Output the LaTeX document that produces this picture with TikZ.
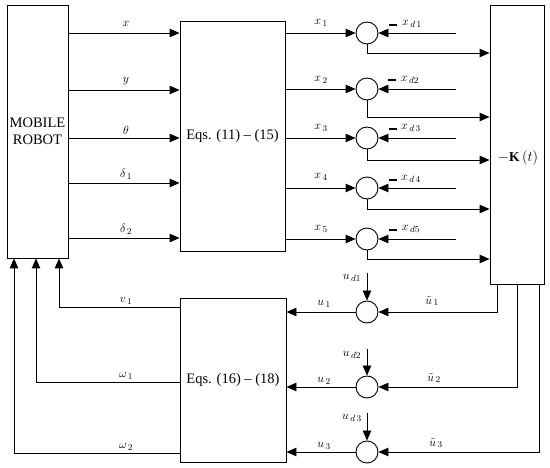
\documentclass[tikz,border=0pt]{standalone}
\usepackage{fontspec}
\setmainfont{Liberation Serif}
\usetikzlibrary{arrows.meta}
\begin{document}
\begin{tikzpicture}[x=1pt,y=-1pt,
  blk/.style={draw, line width=0.9pt, inner sep=0pt, align=center, font=\fontsize{14.5}{17}\selectfont},
  sumj/.style={draw, circle, line width=0.9pt, minimum size=22pt, inner sep=0pt},
  arr/.style={line width=0.9pt, -{Triangle[length=10pt,width=8.5pt]}},
  lbl/.style={font=\fontsize{13}{15}\selectfont, inner sep=0pt},
  minusbar/.style={inner sep=0pt}
]
\useasboundingbox (0,0) rectangle (550,468);
% blocks
\node[blk, minimum width=61pt, minimum height=253pt] (robot) at (37.5,131.5) {MOBILE\\ROBOT};
\node[blk, minimum width=105pt, minimum height=230pt] (eqa) at (232.5,136) {Eqs. (11) -- (15)};
\node[blk, minimum width=54pt, minimum height=279pt] (K) at (517,144.5) {};
\node[lbl, font=\fontsize{13.5}{15}\selectfont] (Kl) at (518,158) {$-\mathbf{K}\left(t\right)$};
\node[blk, minimum width=106pt, minimum height=164pt] (eqb) at (233,380) {Eqs. (16) -- (18)};
% robot -> eqa
\draw[arr] (robot.east |- 0,33) -- (eqa.west |- 0,33);
\draw[arr] (robot.east |- 0,90) -- (eqa.west |- 0,90);
\draw[arr] (robot.east |- 0,138) -- (eqa.west |- 0,138);
\draw[arr] (robot.east |- 0,183) -- (eqa.west |- 0,183);
\draw[arr] (robot.east |- 0,238) -- (eqa.west |- 0,238);
\node[lbl] (lx) at (126,24) {$x$};
\node[lbl] (ly) at (126,81) {$y$};
\node[lbl] (lth) at (126,130) {$\theta$};
\node[lbl] (ld1) at (126,174) {$\delta_{\,1}$};
\node[lbl] (ld2) at (126,229) {$\delta_{\,2}$};
% summing junctions (top)
\node[sumj] (s1) at (367,33) {};
\node[sumj] (s2) at (367,89) {};
\node[sumj] (s3) at (367,138) {};
\node[sumj] (s4) at (367,188) {};
\node[sumj] (s5) at (367,239) {};
\foreach \i in {1,...,5}{
  \draw[arr] (eqa.east |- s\i) -- (s\i.west);
  \coordinate (d\i) at ([xshift=89pt]s\i.center);
  \draw[arr] (d\i) -- (s\i.east);
}
\draw[arr] (s1.south) |- (K.west |- 0,53);
\draw[arr] (s2.south) |- (K.west |- 0,117);
\draw[arr] (s3.south) |- (K.west |- 0,160);
\draw[arr] (s4.south) |- (K.west |- 0,209);
\draw[arr] (s5.south) |- (K.west |- 0,259);
\node[lbl] (lx1) at (321,23) {$x_{\,1}$};
\node[lbl] (lx2) at (321,80) {$x_{\,2}$};
\node[lbl] (lx3) at (321,128) {$x_{\,3}$};
\node[lbl] (lx4) at (321,177) {$x_{\,4}$};
\node[lbl] (lx5) at (321,229) {$x_{\,5}$};
\node[minusbar] (m1) at (393,25) {\rule{8pt}{1.8pt}};
\node[minusbar] (m2) at (392,80) {\rule{8pt}{1.8pt}};
\node[minusbar] (m3) at (393,129) {\rule{8pt}{1.8pt}};
\node[minusbar] (m4) at (393,180) {\rule{8pt}{1.8pt}};
\node[minusbar] (m5) at (393,230) {\rule{8pt}{1.8pt}};
\node[lbl] (lxd1) at (412,24) {$x_{\,d\,1}$};
\node[lbl] (lxd2) at (410,80) {$x_{\,d2}$};
\node[lbl] (lxd3) at (411,128) {$x_{\,d\,3}$};
\node[lbl] (lxd4) at (411,179) {$x_{\,d\,4}$};
\node[lbl] (lxd5) at (411,229) {$x_{\,d5}$};
% bottom summing junctions
\node[sumj] (t1) at (367,312) {};
\node[sumj] (t2) at (367,387) {};
\node[sumj] (t3) at (367,452) {};
\coordinate (ud1) at (367,273);
\coordinate (ud2) at (367,349);
\coordinate (ud3) at (367,413);
\draw[arr] (ud1) -- (t1.north);
\draw[arr] (ud2) -- (t2.north);
\draw[arr] (ud3) -- (t3.north);
\draw[arr] ([xshift=-20pt]K.south) |- (t1.east);
\draw[arr] (K.south) |- (t2.east);
\draw[arr] ([xshift=22pt]K.south) |- (t3.east);
\draw[arr] (t1.west) -- (eqb.east |- t1);
\draw[arr] (t2.west) -- (eqb.east |- t2);
\draw[arr] (t3.west) -- (eqb.east |- t3);
\node[lbl] (lud1) at (352,278) {$u_{\,d1}$};
\node[lbl] (lud2) at (352,355) {$u_{\,d2}$};
\node[lbl] (lud3) at (352,418) {$u_{\,d\,3}$};
\node[lbl] (lu1) at (324,304) {$u_{\,1}$};
\node[lbl] (lu2) at (324,381) {$u_{\,2}$};
\node[lbl] (lu3) at (324,446) {$u_{\,3}$};
\node[lbl] (lut1) at (432,301) {$\tilde{u}_{\,1}$};
\node[lbl] (lut2) at (434,378) {$\tilde{u}_{\,2}$};
\node[lbl] (lut3) at (436,443) {$\tilde{u}_{\,3}$};
% eqb -> robot
\draw[arr] (eqb.west |- 0,307) -| ([xshift=21.5pt]robot.south);
\draw[arr] (eqb.west |- 0,382) -| ([xshift=-1.5pt]robot.south);
\draw[arr] (eqb.west |- 0,453) -| ([xshift=-23.5pt]robot.south);
\node[lbl] (lv1) at (126,301) {$v_{\,1}$};
\node[lbl] (lw1) at (126,376) {$\omega_{\,1}$};
\node[lbl] (lw2) at (126,447) {$\omega_{\,2}$};
\end{tikzpicture}
\end{document}
